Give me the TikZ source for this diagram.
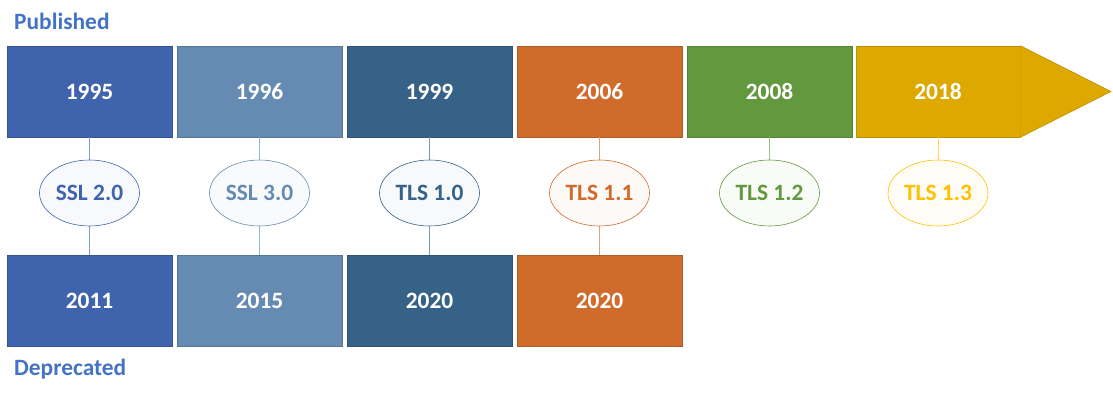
\documentclass[tikz,border=0pt]{standalone}
\usepackage{fontspec}
\setmainfont{Carlito}
\usetikzlibrary{shapes.geometric}
\definecolor{cA}{HTML}{3F63AD}
\definecolor{cB}{HTML}{658BB2}
\definecolor{cC}{HTML}{376287}
\definecolor{cD}{HTML}{D06B2B}
\definecolor{cE}{HTML}{62993E}
\definecolor{cF}{HTML}{DDA900}
\definecolor{cFt}{HTML}{FFC000}
\definecolor{lbl}{HTML}{4472C4}
\tikzset{
  yearbox/.style={draw=#1!85!black, line width=0.6pt, fill=#1, minimum width=165bp, minimum height=91bp, inner sep=0pt, text=white, font=\fontsize{23.5}{26}\selectfont\bfseries},
  verell/.style={ellipse, draw=#1, line width=0.6pt, fill=#1!4, minimum width=100bp, minimum height=66bp, inner sep=0pt, text=#1, font=\fontsize{23.5}{26}\selectfont\bfseries},
  conn/.style={draw=#1!65, line width=0.8pt},
  sidelbl/.style={text=lbl, font=\fontsize{23.5}{26}\selectfont\bfseries, anchor=west, inner sep=0pt}
}
\begin{document}
\begin{tikzpicture}[x=1bp,y=1bp]
\useasboundingbox (0,0) rectangle (1113,395);
% top boxes
\node[yearbox=cA] (p1) at (89.5,303.5) {1995};
\node[yearbox=cB] (p2) at (259.5,303.5) {1996};
\node[yearbox=cC] (p3) at (429.5,303.5) {1999};
\node[yearbox=cD] (p4) at (599.5,303.5) {2006};
\node[yearbox=cE] (p5) at (769.5,303.5) {2008};
\node[yearbox=cF, minimum width=164bp] (p6) at (938,303.5) {2018};
\coordinate (tip) at (1111,303.5);
\fill[cF] (p6.north east) -- (tip) -- (p6.south east) -- cycle;
\draw[cF!85!black, line width=0.6pt] (p6.north east) -- (tip) -- (p6.south east);
% ellipses
\node[verell=cA] (e1) at (89.5,202) {SSL 2.0};
\node[verell=cB] (e2) at (259.5,202) {SSL 3.0};
\node[verell=cC] (e3) at (429.5,202) {TLS 1.0};
\node[verell=cD] (e4) at (599.5,202) {TLS 1.1};
\node[verell=cE] (e5) at (769.5,202) {TLS 1.2};
\node[verell=cFt] (e6) at (938,202) {TLS 1.3};
% bottom boxes
\node[yearbox=cA] (d1) at (89.5,94) {2011};
\node[yearbox=cB] (d2) at (259.5,94) {2015};
\node[yearbox=cC] (d3) at (429.5,94) {2020};
\node[yearbox=cD] (d4) at (599.5,94) {2020};
% connectors
\draw[conn=cA] (p1.south) -- (e1.north);
\draw[conn=cB] (p2.south) -- (e2.north);
\draw[conn=cC] (p3.south) -- (e3.north);
\draw[conn=cD] (p4.south) -- (e4.north);
\draw[conn=cE] (p5.south) -- (e5.north);
\draw[conn=cFt] (p6.south) -- (e6.north);
\draw[conn=cA] (e1.south) -- (d1.north);
\draw[conn=cB] (e2.south) -- (d2.north);
\draw[conn=cC] (e3.south) -- (d3.north);
\draw[conn=cD] (e4.south) -- (d4.north);
% side labels
\node[sidelbl] (pub) at (14,374) {Published};
\node[sidelbl] (dep) at (14,26) {Deprecated};
\end{tikzpicture}
\end{document}
